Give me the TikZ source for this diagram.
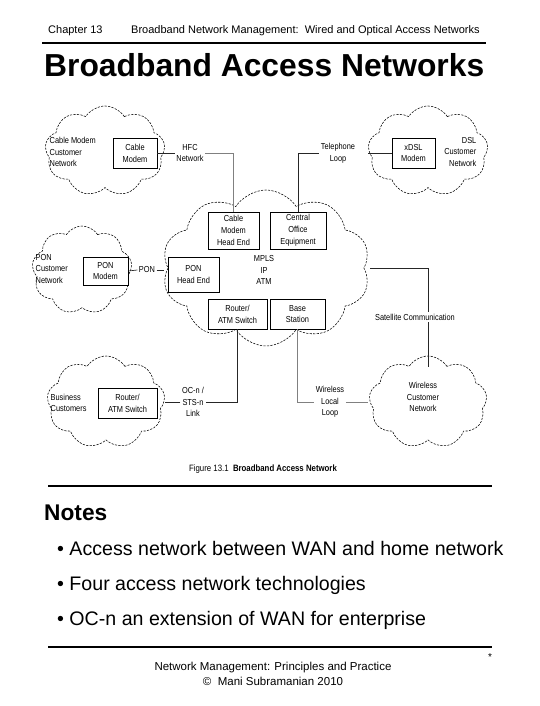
\documentclass[tikz,border=0pt]{standalone}
\usepackage{fontspec}
\setmainfont{Liberation Sans}
\newfontfamily\figfont[FakeStretch=0.85]{Liberation Sans}
\usetikzlibrary{shapes.symbols}
\begin{document}
\begin{tikzpicture}[x=1pt,y=-1pt,
  cloudsh/.style={cloud, cloud puffs=9, cloud puff arc=115, cloud ignores aspect, draw=black, dash pattern=on 2.2pt off 1.3pt, line width=0.55pt, inner sep=0pt},
  dev/.style={draw=black, line width=0.7pt, fill=white, align=center, font=\figfont\fontsize{8.7}{11.8}\selectfont, inner sep=0pt},
  lbl/.style={align=center, font=\figfont\fontsize{8.7}{11.5}\selectfont, inner sep=1.5pt, text=black},
  wire/.style={line width=0.65pt, draw=black!85},
  lwire/.style={line width=0.55pt, draw=black!50},
  rulel/.style={line width=2pt},
]
\useasboundingbox (0,0) rectangle (540,706);
\fill[white] (0,0) rectangle (540,706);

% header
\node[anchor=base west, inner sep=0, font=\fontsize{11}{13}\selectfont] (chap) at (48,34) {Chapter 13};
\node[anchor=base west, inner sep=0, font=\fontsize{11}{13}\selectfont] (book) at (131,34) {Broadband Network Management:\ \ Wired and Optical Access Networks};
\draw[rulel] (42,43) -- (486,43);
\node[anchor=base west, inner sep=0, font=\fontsize{31.8}{36}\selectfont\bfseries] (title) at (44,77) {Broadband Access Networks};

% clouds
\node[cloudsh, minimum width=120pt, minimum height=90pt] (cmc) at (105,151) {};
\node[cloudsh, minimum width=120pt, minimum height=90pt] (dslc) at (428,151) {};
\node[cloudsh, minimum width=100pt, minimum height=88pt] (ponc) at (82,270) {};
\node[cloudsh, cloud puffs=10, minimum width=208pt, minimum height=156pt] (core) at (266,268) {};
\node[cloudsh, minimum width=118pt, minimum height=92pt] (busc) at (106,402) {};
\node[cloudsh, minimum width=118pt, minimum height=92pt] (wlc) at (428,402) {};

% labels
\node[lbl, anchor=west, align=left] (cmtxt) at (48,152) {Cable Modem\\Customer\\Network};
\node[lbl] (hfc) at (190,153) {HFC\\Network};
\node[lbl] (tel) at (338,153) {Telephone\\Loop};
\node[lbl, anchor=east, align=right] (dsltxt) at (478,152) {DSL\\Customer\\Network};
\node[lbl, anchor=west, align=left] (pontxt) at (34,269) {PON\\Customer\\Network};
\node[lbl] (ponl) at (147,270) {PON};
\node[lbl] (mpls) at (264,270) {MPLS\\IP\\ATM};
\node[lbl, anchor=west, align=left] (bustxt) at (49,403) {Business\\Customers};
\node[lbl] (ocn) at (193,402) {OC-n /\\STS-n\\Link};
\node[lbl] (wll) at (330,402) {Wireless\\Local\\Loop};
\node[lbl] (wltxt) at (423,397) {Wireless\\Customer\\Network};

% devices
\node[dev, minimum width=44pt, minimum height=30pt] (cm) at (135,153) {Cable\\Modem};
\node[dev, minimum width=43pt, minimum height=30pt] (xdsl) at (413.5,153) {xDSL\\Modem};
\node[dev, minimum width=45pt, minimum height=28pt] (ponm) at (105.5,271) {PON\\Modem};
\node[dev, minimum width=51pt, minimum height=37pt] (cmhe) at (233.5,230.5) {Cable\\Modem\\Head End};
\node[dev, minimum width=56pt, minimum height=37pt] (coe) at (298,230.5) {Central\\Office\\Equipment};
\node[dev, minimum width=51pt, minimum height=35pt] (ponhe) at (193.5,274.5) {PON\\Head End};
\node[dev, minimum width=59pt, minimum height=30pt] (rsw) at (237.5,314) {Router/\\ATM Switch};
\node[dev, minimum width=55pt, minimum height=30pt] (bs) at (297.5,314) {Base\\Station};
\node[dev, minimum width=59pt, minimum height=30pt] (brsw) at (127.5,403) {Router/\\ATM Switch};

% free ends
\coordinate (telR) at (368,153);
\coordinate (coreL) at (164,270);
\coordinate (coreR) at (370,268);
\coordinate (wlTop) at (428,367);
\coordinate (busR) at (165,402);
\coordinate (wlL) at (368,402);

% connectors
\draw[wire] (cm.east) -- (hfc.west);
\draw[lwire] (hfc.east) -| (cmhe.north);
\draw[wire] (coe.north) |- (tel.west);
\draw[wire] (telR) -- (xdsl.west);
\draw[wire] (ponm.east) -- (ponl.west);
\draw[wire] (ponl.east) -- (coreL);
\draw[wire] (coreR) -| (wlTop);
\draw[wire] (rsw.south) |- (ocn.east);
\draw[wire] (ocn.west) -- (busR);
\draw[lwire] (bs.south) |- (wll.west);
\draw[lwire] (wll.east) -- (wlL);
\node[lbl, fill=white, inner sep=2pt] (sat) at (415,317) {Satellite Communication};

% caption
\node[lbl, align=center, font=\figfont\fontsize{9.2}{11}\selectfont] (cap) at (263,469) {Figure 13.1\ \ \textbf{Broadband Access Network}};
\draw[rulel] (48,486) -- (492,486);

% notes
\node[anchor=base west, inner sep=0, font=\fontsize{22.7}{26}\selectfont\bfseries] (notes) at (44,520) {Notes};
\node[anchor=base west, inner sep=0, font=\fontsize{19.6}{23}\selectfont] (n1) at (57,555) {• Access network between WAN and home network};
\node[anchor=base west, inner sep=0, font=\fontsize{19.6}{23}\selectfont] (n2) at (57,590) {• Four access network technologies};
\node[anchor=base west, inner sep=0, font=\fontsize{19.6}{23}\selectfont] (n3) at (57,625) {• OC-n an extension of WAN for enterprise};

% footer
\draw[rulel] (48,647) -- (492,647);
\node[anchor=base, inner sep=0, font=\fontsize{10}{12}\selectfont] (star) at (490,660) {*};
\node[anchor=base, inner sep=0, font=\fontsize{11.5}{14}\selectfont] (f1) at (273,670) {Network Management: Principles and Practice};
\node[anchor=base, inner sep=0, font=\fontsize{11.5}{14}\selectfont] (f2) at (273,685) {©\ \ Mani Subramanian 2010};
\end{tikzpicture}
\end{document}
